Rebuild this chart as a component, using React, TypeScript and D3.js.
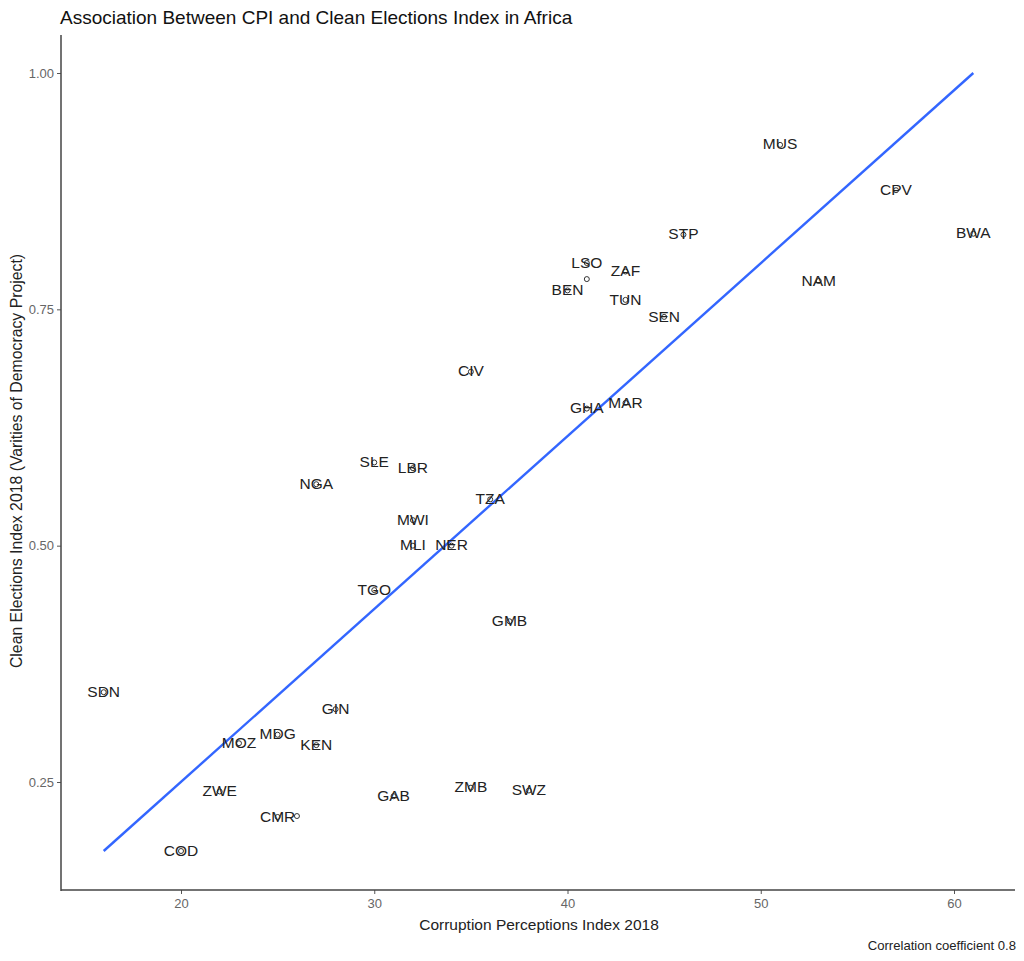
import React, { useEffect, useRef } from 'react';
import * as d3 from 'd3';

const codes = ['MUS', 'CPV', 'BWA', 'STP', 'NAM', 'LSO', 'ZAF', 'TUN', 'SEN', 'BEN', 'CIV', 'GHA', 'MAR', 'SLE', 'LBR', 'NGA', 'TZA', 'MWI', 'MLI', 'NER', 'TGO', 'GMB', 'SDN', 'GIN', 'MDG', 'MOZ', 'KEN', 'ZWE', 'GAB', 'ZMB', 'SWZ', 'CMR', 'COD'];
const cpi = [51, 57, 61, 46, 53, 41, 43, 43, 45, 40, 35, 41, 43, 30, 32, 27, 36, 32, 32, 34, 30, 37, 16, 28, 25, 23, 27, 22, 31, 35, 38, 25, 20];
const clean = [0.924, 0.876, 0.83, 0.829, 0.78, 0.799, 0.79, 0.76, 0.742, 0.77, 0.684, 0.645, 0.651, 0.588, 0.582, 0.565, 0.549, 0.527, 0.5, 0.5, 0.453, 0.42, 0.345, 0.327, 0.3, 0.291, 0.289, 0.24, 0.235, 0.244, 0.241, 0.213, 0.177];
// points in the picture that have no label of their own
const unlabeledCpi = [41, 26];
const unlabeledClean = [0.782, 0.214];
const fitX = [16, 61];
const fitY = [0.177, 1.0];
const xTicks = [20, 30, 40, 50, 60];
const yTicks = [0.25, 0.5, 0.75, 1.0];

const FONT = '"Liberation Sans", Arial, sans-serif';

const App: React.FC = () => {
  const svgRef = useRef<SVGSVGElement>(null);

  useEffect(() => {
    const svg = d3.select(svgRef.current);
    svg.selectAll('*').remove();

    const left = 61, right = 1015, top = 35, bottom = 890;

    const x = d3.scaleLinear().domain([20, 60]).range([181, 954]);
    const y = d3.scaleLinear().domain([0.25, 1]).range([782, 73]);

    // Title
    svg.append('text')
      .attr('x', 60)
      .attr('y', 24)
      .attr('font-size', 19)
      .attr('fill', '#111')
      .text('Association Between CPI and Clean Elections Index in Africa');

    // X Axis
    const gx = svg.append('g')
      .attr('transform', `translate(0,${bottom})`)
      .call(d3.axisBottom(x).tickValues(xTicks).tickFormat(d3.format('d')).tickSize(4).tickSizeOuter(0));
    gx.selectAll('text').attr('font-size', 13).attr('fill', '#666').attr('dy', '0.85em').style('font-family', FONT);

    // Y Axis
    const gy = svg.append('g')
      .attr('transform', `translate(${left},0)`)
      .call(d3.axisLeft(y).tickValues(yTicks).tickFormat(d3.format('.2f')).tickSize(4).tickSizeOuter(0));
    gy.selectAll('text').attr('font-size', 13).attr('fill', '#666').style('font-family', FONT);

    // Axis styling
    svg.selectAll('.tick line').attr('stroke', '#555');
    svg.selectAll('.domain').remove();
    svg.append('line').attr('x1', left).attr('x2', left).attr('y1', top).attr('y2', bottom + 1).attr('stroke', '#444').attr('stroke-width', 1.5);
    svg.append('line').attr('x1', left).attr('x2', right).attr('y1', bottom).attr('y2', bottom).attr('stroke', '#444').attr('stroke-width', 1.5);

    // Axis labels
    svg.append('text')
      .attr('x', 539)
      .attr('y', 930)
      .attr('text-anchor', 'middle')
      .attr('font-size', 15.5)
      .attr('fill', '#222')
      .text('Corruption Perceptions Index 2018');

    svg.append('text')
      .attr('transform', 'rotate(-90)')
      .attr('x', -461)
      .attr('y', 22)
      .attr('text-anchor', 'middle')
      .attr('font-size', 15.8)
      .attr('fill', '#222')
      .text('Clean Elections Index 2018 (Varities of Democracy Project)');

    // Caption
    svg.append('text')
      .attr('x', 1016)
      .attr('y', 950)
      .attr('text-anchor', 'end')
      .attr('font-size', 13.1)
      .attr('fill', '#222')
      .text('Correlation coefficient 0.8');

    // Fit line
    const line = d3.line<number>().x(d => x(d)).y((_d, i) => y(fitY[i]));
    svg.append('path')
      .attr('d', line(fitX))
      .attr('fill', 'none')
      .attr('stroke', '#3366ff')
      .attr('stroke-width', 2.4);

    // Points
    const allX = [...cpi, ...unlabeledCpi];
    const allY = [...clean, ...unlabeledClean];
    svg.selectAll('.dot')
      .data(allX)
      .enter().append('circle')
      .attr('class', 'dot')
      .attr('cx', d => x(d))
      .attr('cy', (_d, i) => y(allY[i]))
      .attr('r', 2.5)
      .attr('fill', 'none')
      .attr('stroke', '#333')
      .attr('stroke-width', 1);

    // Country codes
    svg.selectAll('.code')
      .data(codes)
      .enter().append('text')
      .attr('class', 'code')
      .attr('x', (_d, i) => x(cpi[i]))
      .attr('y', (_d, i) => y(clean[i]))
      .attr('dy', '0.3em')
      .attr('text-anchor', 'middle')
      .attr('font-size', 15.5)
      .attr('fill', '#222')
      .text(d => d);
  }, []);

  return (
    <svg
      ref={svgRef}
      width={1024}
      height={961}
      style={{ position: 'absolute', left: 0, top: 0, background: '#fff', fontFamily: FONT }}
    />
  );
};

export default App;
